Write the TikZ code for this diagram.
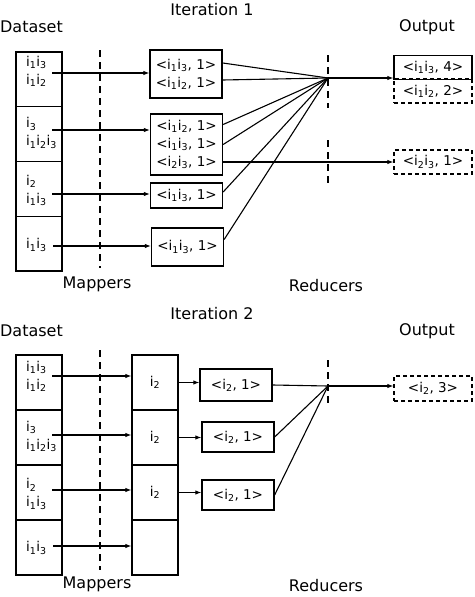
\documentclass[tikz,border=0pt]{standalone}
\usepackage{fontspec}
\setmainfont{DejaVu Sans}
\usetikzlibrary{arrows.meta,calc}
\newcommand{\isub}[1]{i\textsubscript{#1}}

\begin{document}
\begin{tikzpicture}[x=1pt,y=-1pt,
    every node/.style={font=\fontsize{13.5}{18}\selectfont},
    head/.style={font=\fontsize{16}{19}\selectfont},
    cell/.style={draw,line width=1.3pt,minimum width=46pt,minimum height=54.75pt,inner sep=0pt},
    itemtxt/.style={anchor=west,align=left,inner sep=1pt},
    pairbox/.style={draw,line width=1.3pt,minimum width=72pt,inner sep=0pt,align=center},
    outbox/.style={draw,line width=1.3pt,minimum width=78pt,minimum height=24pt,inner sep=0pt},
    dashout/.style={outbox,dash pattern=on 4pt off 3pt},
    part/.style={dash pattern=on 7pt off 5pt,line width=1.3pt},
    arr/.style={-{Latex[length=6pt,width=4.5pt]},line width=1.1pt},
    link/.style={line width=1.1pt}]
  \useasboundingbox (0,0) rectangle (474,597);

  % ---------------- Iteration 1 ----------------
  \node[head] (it1) at (212,10) {Iteration 1};
  \node[head] (ds1) at (31.5,27) {Dataset};
  \node[head] (out1) at (427,27) {Output};
  \node[head] (map1) at (97,284) {Mappers};
  \node[head] (red1) at (326,286) {Reducers};

  \foreach [count=\j] \y in {79.4,134.1,188.9,243.6} {
    \node[cell] (d\j) at (39,\y) {};
  }
  \node[itemtxt] (t1) at (25,71) {\isub1\isub3\\\isub1\isub2};
  \node[itemtxt] (t2) at (25,133) {\isub3\\\isub1\isub2\isub3};
  \node[itemtxt] (t3) at (25,190.5) {\isub2\\\isub1\isub3};
  \node[itemtxt] (t4) at (25,245) {\isub1\isub3};

  \draw[part] (100,50) -- (100,268);

  \node[pairbox,minimum height=48pt] (m1) at (186,74) {<\isub1\isub3, 1>\\<\isub1\isub2, 1>};
  \node[pairbox,minimum height=61pt] (m2) at (186.5,144.5) {<\isub1\isub2, 1>\\<\isub1\isub3, 1>\\<\isub2\isub3, 1>};
  \node[pairbox,minimum height=25pt] (m3) at (186.5,195.5) {<\isub1\isub3, 1>};
  \node[pairbox,minimum height=38pt] (m4) at (187.5,247) {<\isub1\isub3, 1>};

  \coordinate (s1) at (52,73);
  \coordinate (s2) at (52,130);
  \coordinate (s3) at (52,194);
  \coordinate (s4) at (53,246);
  \foreach \j in {1,2,3,4} {
    \draw[arr] (s\j) -- (s\j -| m\j.west);
  }

  \coordinate (r1) at (328,78);
  \draw[part] (328,55) -- (328,108);
  \draw[part] (328,140) -- (328,185);

  \node[outbox] (o1) at (433,67.5) {<\isub1\isub3, 4>};
  \node[dashout] (o2) at (433,91) {<\isub1\isub2, 2>};
  \node[dashout] (o3) at (433,162) {<\isub2\isub3, 1>};

  \draw[link] ($(m1.east)+(0,-11)$) -- (r1);
  \draw[link] ($(m1.east)+(0,6)$) -- (r1);
  \draw[link] ($(m2.east)+(0,-20)$) -- (r1);
  \draw[link] (m2.east) -- (r1);
  \draw[link] ($(m3.east)+(0,-3.5)$) -- (r1);
  \draw[link] ($(m4.east)+(0,-7.5)$) -- (r1);
  \coordinate (m2c) at ($(m2.east)+(0,17.5)$);
  \draw[arr] (m2c) -- (m2c -| o3.west);
  \draw[arr] (r1) -- (r1 -| o1.west);

  % ---------------- Iteration 2 ----------------
  \node[head] (it2) at (212,314) {Iteration 2};
  \node[head] (ds2) at (31.5,331) {Dataset};
  \node[head] (out2) at (427,331) {Output};
  \node[head] (map2) at (97,584) {Mappers};
  \node[head] (red2) at (326,586) {Reducers};

  \foreach [count=\j] \y in {382.5,437.5,492.5,547.5} {
    \node[cell,minimum height=55pt] (e\j) at (39,\y) {};
  }
  \node[itemtxt] (v1) at (25,376) {\isub1\isub3\\\isub1\isub2};
  \node[itemtxt] (v2) at (25,436.5) {\isub3\\\isub1\isub2\isub3};
  \node[itemtxt] (v3) at (25,494) {\isub2\\\isub1\isub3};
  \node[itemtxt] (v4) at (25,548) {\isub1\isub3};

  \draw[part] (100,350) -- (100,570);

  \node[cell,minimum height=55pt] (k1) at (155,382.5) {\isub2};
  \node[cell,minimum height=55pt] (k2) at (155,437.5) {\isub2};
  \node[cell,minimum height=55pt] (k3) at (155,492.5) {\isub2};
  \node[cell,minimum height=55pt] (k4) at (155,547.5) {};

  \coordinate (u1) at (52,376);
  \coordinate (u2) at (52,435);
  \coordinate (u3) at (52,490);
  \coordinate (u4) at (53,546);
  \foreach \j in {1,2,3,4} {
    \draw[arr] (u\j) -- (u\j -| k\j.west);
  }

  \node[pairbox,minimum height=32pt] (q1) at (236,385) {<\isub2, 1>};
  \node[pairbox,minimum height=30pt] (q2) at (238,437) {<\isub2, 1>};
  \node[pairbox,minimum height=30pt] (q3) at (238,495) {<\isub2, 1>};
  \foreach \j in {1,2,3} {
    \draw[arr] (k\j.east) -- (k\j.east -| q\j.west);
  }

  \coordinate (r2) at (328,386);
  \draw[part] (328,360) -- (328,405);
  \foreach \j in {1,2,3} {
    \draw[link] (q\j.east) -- (r2);
  }

  \node[dashout,minimum height=25pt] (o4) at (433,388.5) {<\isub2, 3>};
  \draw[arr] (r2) -- (r2 -| o4.west);
\end{tikzpicture}
\end{document}
